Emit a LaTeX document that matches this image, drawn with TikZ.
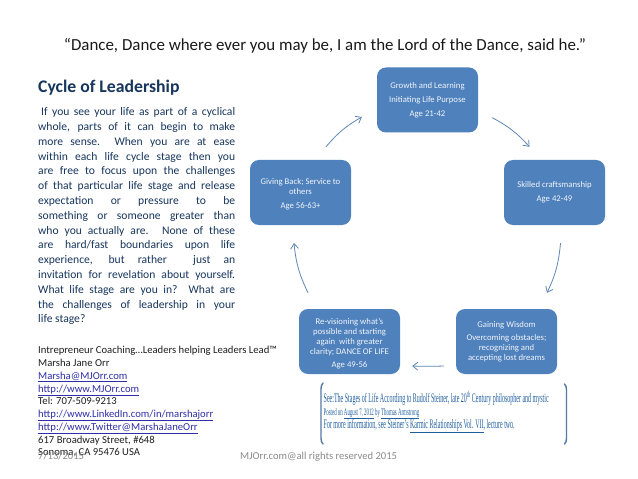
\documentclass[tikz,border=0pt]{standalone}
\usepackage{fontspec}
\setmainfont{Carlito}
\newfontfamily\seefont{Liberation Serif}
\usetikzlibrary{arrows.meta}
\definecolor{boxblue}{HTML}{4F81BD}
\definecolor{navy}{HTML}{17365D}
\definecolor{linkblue}{HTML}{2F2FA8}
\definecolor{footgray}{HTML}{8B8B8B}
\definecolor{arrowblue}{HTML}{5F87B5}
\definecolor{seeblue}{HTML}{1F5F9F}
\newcommand{\lk}[1]{\textcolor{linkblue}{\underline{#1}}}
\tikzset{
  stage/.style={draw=none,fill=boxblue,rounded corners=9bp,minimum width=101bp,minimum height=65bp,
    text=white!92!boxblue,align=center,font=\fontsize{8.7bp}{10bp}\selectfont,inner sep=0pt},
  cyclearrow/.style={draw=arrowblue,line width=0.8bp,-{Straight Barb[length=5bp,width=8bp]}},
  plain/.style={inner sep=0pt,anchor=base west},
  contact/.style={plain,font=\fontsize{10.65bp}{12bp}\selectfont,text=black!88},
  foot/.style={plain,font=\fontsize{10.6bp}{12bp}\selectfont,text=footgray},
  bracketline/.style={draw=arrowblue!90!black,line width=1.4bp,line cap=round},
  seeline/.style={plain,text=seeblue}
}
\begin{document}
\begin{tikzpicture}[x=1bp,y=-1bp]
\useasboundingbox (0,0) rectangle (638,479);
\fill[white] (0,0) rectangle (638,479);

\node[inner sep=0pt,anchor=center,font=\fontsize{16.9bp}{18bp}\selectfont,text=black!90] (title) at (325,46)
  {“Dance, Dance where ever you may be, I am the Lord of the Dance, said he.”};

\node[plain,font=\bfseries\fontsize{17.7bp}{20bp}\selectfont,text=navy] (heading) at (38,93) {Cycle of Leadership};

\node[inner sep=0pt,anchor=north west,text width=197bp,align=justify,text=navy,
  font=\fontsize{11.6bp}{14.8bp}\selectfont] (body) at (38,107.5) {%
\hspace*{3bp}If you see your life as part of a cyclical\linebreak
whole, parts of it can begin to make\linebreak
more sense.\ \ When you are at ease\linebreak
within each life cycle stage then you\linebreak
are free to focus upon the challenges\linebreak
of that particular life stage and release\linebreak
expectation or pressure to be\linebreak
something or someone greater than\linebreak
who you actually are. None of these\linebreak
are hard/fast boundaries upon life\linebreak
experience, but rather\ \ just an\linebreak
invitation for revelation about yourself.\linebreak
What life stage are you in?\ \ What are\linebreak
the challenges of leadership in your\linebreak
life stage?\par};

\node[contact] (c1) at (38,353) {Intrepreneur Coaching…Leaders helping Leaders Lead™};
\node[contact] (c2) at (38,366) {Marsha Jane Orr};
\node[contact] (c3) at (38,379) {\lk{Marsha@MJOrr.com}};
\node[contact] (c4) at (38,392) {\lk{http://www.MJOrr.com}};
\node[contact] (c5) at (38,404) {Tel: 707-509-9213};
\node[contact] (c6) at (38,417) {\lk{http://www.LinkedIn.com/in/marshajorr}};
\node[contact] (c7) at (38,430) {\lk{http://www.Twitter@MarshaJaneOrr}};
\node[contact] (c8) at (38,443) {617 Broadway Street, \#648};
\node[contact] (c9) at (38,455) {Sonoma, CA 95476 USA};
\node[foot] (date) at (38,459.5) {7/13/2015};
\node[foot] (copy) at (240,459.5) {MJOrr.com@all rights reserved 2015};

\node[stage] (top) at (427.5,100) {Growth and Learning\\[4bp]Initiating Life Purpose\\[4bp]Age 21-42};
\node[stage] (right) at (554.5,192.5) {Skilled craftsmanship\\[4bp]Age 42-49};
\node[stage] (lowright) at (506.5,341.5) {Gaining Wisdom\\[3bp]Overcoming obstacles;\\recognizing and\\accepting lost dreams};
\node[stage] (lowleft) at (349.5,341.5) {\rule{0pt}{10bp}Re-visioning what’s\\possible and starting\\again\ \ with greater\\clarity; DANCE OF LIFE\\[3bp]Age 49-56};
\node[stage] (left) at (300.5,192.5) {\rule{0pt}{9bp}Giving Back; Service to\\others\\[4bp]Age 56-63+};

\draw[cyclearrow] ([shift={(14,-15)}]top.south east) to[bend left=10] ([shift={(-25,-13)}]right.north);
\draw[cyclearrow] ([shift={(6,18)}]right.south) to[bend left=10] ([shift={(40.5,-16)}]lowright.north);
\draw[cyclearrow] ([shift={(-12,24.5)}]lowright.west) to[bend left=2] ([shift={(12,24.5)}]lowleft.east);
\draw[cyclearrow] ([shift={(-41.5,-16)}]lowleft.north) to[bend left=10] ([shift={(-6.5,18)}]left.south);
\draw[cyclearrow] ([shift={(25.5,-13)}]left.north) to[bend left=10] ([shift={(-15,17)}]top.west);

\coordinate (brTL) at (323,383);
\coordinate (brBL) at (323,444);
\coordinate (brTR) at (564.5,384);
\coordinate (brBR) at (564.5,444);
\draw[bracketline] (brTL) .. controls (321.5,385) and (321,386) .. (321,389) -- (321,438) .. controls (321,441) and (321.5,442.5) .. (brBL);
\draw[bracketline] (brTR) .. controls (566,386) and (566.5,387) .. (566.5,390) -- (566.5,438) .. controls (566.5,441) and (566,442.5) .. (brBR);

\node[seeline,font=\seefont\fontsize{13bp}{14bp}\selectfont] (s1) at (323.5,402)
  {\resizebox{225bp}{\height}{See:The Stages of Life According to Rudolf Steiner, late 20\textsuperscript{th} Century philosopher and mystic}};
\node[seeline,font=\seefont\fontsize{10bp}{12bp}\selectfont] (s2) at (323.5,415)
  {\resizebox{95.5bp}{\height}{Posted on \underline{August 7, 2012} by \underline{Thomas Armstrong}}};
\node[seeline,font=\seefont\fontsize{13bp}{14bp}\selectfont] (s3) at (323.5,428)
  {\resizebox{191bp}{\height}{For more information, see Steiner’s \underline{Karmic Relationships Vol. VII}, lecture two.}};
\end{tikzpicture}
\end{document}
